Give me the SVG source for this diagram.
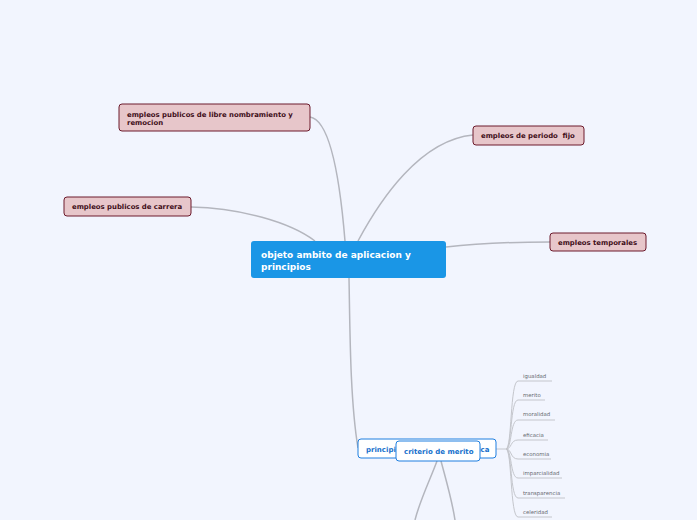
<svg xmlns="http://www.w3.org/2000/svg" width="697" height="520" viewBox="0 0 697 520">
<style>
.bg{fill:#f2f5fe}
.c{fill:none;stroke:#b4b6be;stroke-width:1.5}
.cl{fill:none;stroke:#c4c6cc;stroke-width:1}
.sub{fill:#e7c6ca;stroke:#6c1a2c;stroke-width:1}
.subt{font-family:"DejaVu Sans",sans-serif;font-size:6.9px;font-weight:bold;fill:#3e0d18}
.main{fill:#1a96e6}
.maint{font-family:"DejaVu Sans",sans-serif;font-size:9px;font-weight:bold;fill:#ffffff}
.bl{fill:#ffffff;stroke:#1f7fe0;stroke-width:1}
.blt{font-family:"DejaVu Sans",sans-serif;font-size:7px;font-weight:bold;fill:#1670cc}
.leaf{font-family:"DejaVu Sans",sans-serif;font-size:5.4px;fill:#666a70}
</style>
<rect class="bg" x="0" y="0" width="697" height="520"/>
<g id="connectors">
<path class="c" d="M310,117 C330,120 340,180 345,241"/>
<path class="c" d="M358,241 C380,200 420,140 473,135"/>
<path class="c" d="M191,207 C240,208 290,222 315,241"/>
<path class="c" d="M446,247 C480,243 520,242 550,242"/>
<path class="c" d="M349,278 C350,330 350,400 358,448"/>
<path class="c" d="M437,461 C430,480 420,500 415,520"/>
<path class="c" d="M441,461 C446,480 452,500 455,520"/>
<path class="cl" d="M496,449 L506,449"/>
<path class="cl" d="M506,449 C512,449 510,381 518,381 L552,381"/>
<path class="cl" d="M506,449 C512,449 510,400 518,400 L545,400"/>
<path class="cl" d="M506,449 C512,449 510,420 518,420 L555,420"/>
<path class="cl" d="M506,449 C512,449 510,440 518,440 L548,440"/>
<path class="cl" d="M506,449 C512,449 510,459 518,459 L551,459"/>
<path class="cl" d="M506,449 C512,449 510,478 518,478 L562,478"/>
<path class="cl" d="M506,449 C512,449 510,498 518,498 L565,498"/>
<path class="cl" d="M506,449 C512,449 510,517 518,517 L552,517"/>
</g>
<g id="n-libre">
<rect class="sub" x="119" y="104" width="191" height="27" rx="3"/>
<text class="subt" x="127" y="117">empleos publicos de libre nombramiento y</text>
<text class="subt" x="127" y="125">remocion</text>
</g>
<g id="n-carrera">
<rect class="sub" x="64" y="197" width="127" height="19" rx="3"/>
<text class="subt" x="72" y="209">empleos publicos de carrera</text>
</g>
<g id="n-periodo">
<rect class="sub" x="473" y="126" width="111" height="19" rx="3"/>
<text class="subt" x="481" y="138" xml:space="preserve">empleos de periodo  fijo</text>
</g>
<g id="n-temporales">
<rect class="sub" x="550" y="233" width="96" height="18" rx="3"/>
<text class="subt" x="558" y="245">empleos temporales</text>
</g>
<g id="n-main">
<rect class="main" x="251" y="241" width="195" height="37" rx="3"/>
<text class="maint" x="261" y="258">objeto ambito de aplicacion y</text>
<text class="maint" x="261" y="270">principios</text>
</g>
<g id="n-principios">
<rect class="bl" x="358" y="439" width="138" height="19" rx="3"/>
<text class="blt" x="366" y="452">principios de la funcion publica</text>
</g>
<g id="n-leaves">
<text class="leaf" x="523" y="378">igualdad</text>
<text class="leaf" x="523" y="397">merito</text>
<text class="leaf" x="523" y="416">moralidad</text>
<text class="leaf" x="523" y="437">eficacia</text>
<text class="leaf" x="523" y="456">economia</text>
<text class="leaf" x="523" y="475">imparcialidad</text>
<text class="leaf" x="523" y="495">transparencia</text>
<text class="leaf" x="523" y="514">celeridad</text>
</g>
<g id="n-criterio">
<rect class="bl" x="396" y="441" width="84" height="20" rx="3"/>
<text class="blt" x="404" y="454">criterio de merito</text>
</g>
</svg>
